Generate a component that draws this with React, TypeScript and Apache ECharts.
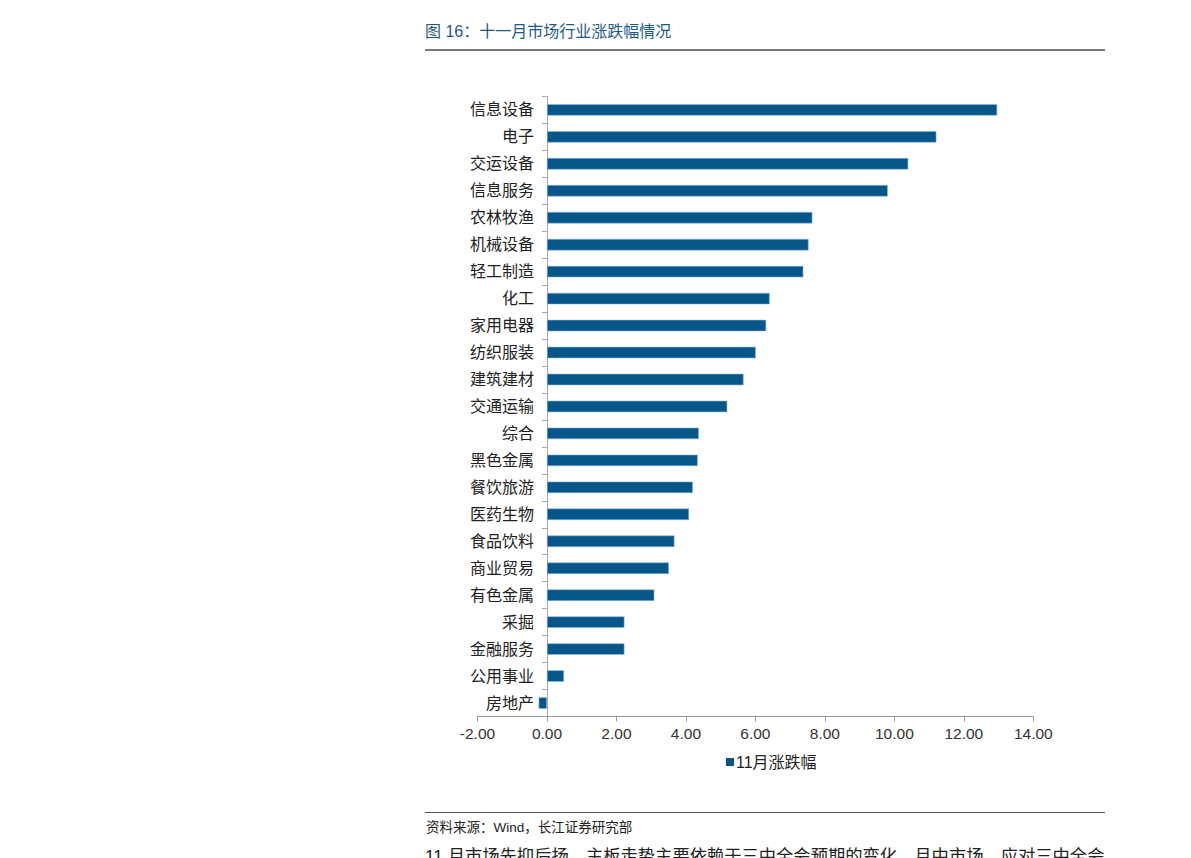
import React, { useEffect, useRef } from "react";
import * as echarts from "echarts";

// 申万一级行业 11 月涨跌幅（%）
const industries = [
  "信息设备", "电子", "交运设备", "信息服务", "农林牧渔", "机械设备", "轻工制造",
  "化工", "家用电器", "纺织服装", "建筑建材", "交通运输", "综合", "黑色金属",
  "餐饮旅游", "医药生物", "食品饮料", "商业贸易", "有色金属", "采掘", "金融服务",
  "公用事业", "房地产",
];
const changes = [
  12.96, 11.21, 10.40, 9.81, 7.64, 7.53, 7.38,
  6.41, 6.31, 6.01, 5.66, 5.19, 4.37, 4.34,
  4.20, 4.09, 3.67, 3.51, 3.09, 2.23, 2.23,
  0.49, -0.24,
];
const seriesName = "11月涨跌幅";
const xTicks = { min: -2, max: 14, interval: 2 };

const titleText = "图 16：十一月市场行业涨跌幅情况";
const sourceText = "资料来源：Wind，长江证券研究部";
const bodyText = "11 月市场先抑后扬，主板走势主要依赖于三中全会预期的变化，月中市场，应对三中全会";

const FONT = '"Liberation Sans", Arial, "Noto Sans CJK SC", sans-serif';

// grid geometry; the category labels sit beside the zero line, not the grid edge
const gridLeft = 477.5;
const gridRight = 157.7;
const plotWidth = 1191 - gridLeft - gridRight;
const zeroX = gridLeft + (plotWidth * (0 - xTicks.min)) / (xTicks.max - xTicks.min);

export default function App() {
  const ref = useRef<HTMLDivElement>(null);

  useEffect(() => {
    document.body.style.margin = "0";
    document.body.style.overflow = "hidden";
    if (!ref.current) return;
    const chart = echarts.init(ref.current, undefined, { renderer: "svg" });
    chart.setOption({
      animation: false,
      backgroundColor: "#ffffff",
      textStyle: { fontFamily: FONT },
      grid: { left: gridLeft, right: gridRight, top: 96.4, bottom: 141.5, containLabel: false },
      legend: {
        data: [seriesName],
        left: 721,
        top: 749,
        icon: "rect",
        itemWidth: 8,
        itemHeight: 8,
        itemGap: 4,
        itemStyle: { borderWidth: 0 },
        textStyle: { fontSize: 16, color: "#222", fontFamily: FONT, padding: [0, 0, 0, -3] },
      },
      xAxis: {
        type: "value",
        min: xTicks.min,
        max: xTicks.max,
        interval: xTicks.interval,
        axisLine: { show: true, lineStyle: { color: "#999", width: 1 } },
        axisTick: { show: true, length: 5, lineStyle: { color: "#999" } },
        axisLabel: {
          margin: 9,
          fontSize: 15.5,
          color: "#333",
          fontFamily: FONT,
          formatter: (v: number) => v.toFixed(2),
        },
        splitLine: { show: false },
      },
      yAxis: {
        type: "category",
        data: industries,
        inverse: true,
        axisLine: { show: true, onZero: true, lineStyle: { color: "#aaa", width: 1 } },
        axisTick: { show: true, length: 5, lineStyle: { color: "#aaa" } },
        axisLabel: {
          margin: gridLeft - zeroX + 13,
          fontSize: 16,
          color: "#222",
          fontFamily: FONT,
        },
        splitLine: { show: false },
      },
      series: [
        {
          name: seriesName,
          type: "bar",
          data: changes,
          barWidth: 11.5,
          itemStyle: { color: "#065689", borderColor: "#8fb8d6", borderWidth: 0.6 },
        },
      ],
      graphic: [
        {
          type: "text",
          left: 425,
          top: 23,
          style: { text: titleText, fontSize: 16, fill: "#1d5a8c", fontFamily: FONT },
        },
        {
          type: "line",
          shape: { x1: 425, y1: 50, x2: 1105, y2: 50 },
          style: { stroke: "#7a7a7a", lineWidth: 2 },
        },
        {
          type: "line",
          shape: { x1: 425, y1: 812.5, x2: 1105, y2: 812.5 },
          style: { stroke: "#555", lineWidth: 1 },
        },
        {
          type: "text",
          left: 426,
          top: 821,
          style: { text: sourceText, fontSize: 13.5, fill: "#222", fontFamily: FONT },
        },
        {
          type: "text",
          left: 425,
          top: 847,
          style: { text: bodyText, fontSize: 17.3, fill: "#222", fontFamily: FONT },
        },
      ],
    });
    return () => chart.dispose();
  }, []);

  return <div ref={ref} style={{ width: 1191, height: 858 }} />;
}
